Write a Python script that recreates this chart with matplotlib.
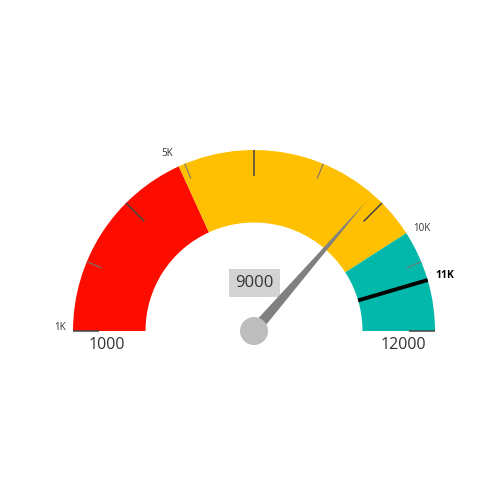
import numpy as np
import matplotlib.pyplot as plt
from matplotlib.patches import Wedge, Circle, Polygon

# gauge data
gauge_min = 1000
gauge_max = 12000
band_edges = [1000, 5000, 10000, 12000]
band_colors = ["#FD0D00", "#FEC000", "#01B8AA"]
value = 9000
target = 11000
edge_labels = ["1K", "5K", "10K"]
edge_values = [1000, 5000, 10000]
target_label = "11K"

CX, CY = 254, 169
R_OUT, R_IN = 181, 108.5

plt.rcParams["font.family"] = ["Open Sans", "DejaVu Sans"]


def angle_of(v):
    return 180.0 - 180.0 * (v - gauge_min) / (gauge_max - gauge_min)


def polar(r, ang):
    a = np.radians(ang)
    return CX + r * np.cos(a), CY + r * np.sin(a)


def main() -> None:
    fig = plt.figure(figsize=(5, 5), dpi=100)
    ax = fig.add_axes([0, 0, 1, 1])
    ax.set_xlim(0, 500)
    ax.set_ylim(0, 500)
    ax.axis("off")

    # coloured bands
    for lo, hi, col in zip(band_edges[:-1], band_edges[1:], band_colors):
        ax.add_patch(Wedge((CX, CY), R_OUT, angle_of(hi), angle_of(lo),
                           width=R_OUT - R_IN, facecolor=col, edgecolor="none"))

    # tick marks, alternating long/short
    n_ticks = 8
    for i in range(n_ticks + 1):
        ang = 180.0 - 180.0 * i / n_ticks
        major = i % 2 == 0
        length = 26 if major else 16
        x0, y0 = polar(R_OUT, ang)
        x1, y1 = polar(R_OUT - length, ang)
        ax.plot([x0, x1], [y0, y1], color="#444444" if major else "#777777",
                lw=1.1 if major else 0.8, solid_capstyle="butt", zorder=3)

    # target line
    ta = angle_of(target)
    x0, y0 = polar(R_IN, ta)
    x1, y1 = polar(R_OUT, ta)
    ax.plot([x0, x1], [y0, y1], color="black", lw=2.8, solid_capstyle="butt", zorder=4)

    # band edge labels
    for lab, v in zip(edge_labels, edge_values):
        ang = angle_of(v)
        if ang > 150:
            ax.text(CX - R_OUT - 7, CY + 4, lab, ha="right", va="center",
                    fontsize=7, color="#333333")
        elif ang > 90:
            x, y = polar(R_OUT + 14, ang)
            ax.text(x, y, lab, ha="right", va="center", fontsize=7, color="#333333")
        else:
            x, y = polar(R_OUT + 8, ang)
            ax.text(x, y, lab, ha="left", va="center", fontsize=7, color="#333333")
    x, y = polar(R_OUT + 8, ta)
    ax.text(x, y + 2, target_label, ha="left", va="center", fontsize=7.5,
            fontweight="bold", color="black")

    # min / max labels
    ax.text(CX - 147, CY - 14, f"{gauge_min}", ha="center",
            va="center", fontsize=11.5, color="#333333")
    ax.text(CX + 149, CY - 14, f"{gauge_max}", ha="center",
            va="center", fontsize=11.5, color="#333333")

    # needle
    va = angle_of(value)
    tip = polar(171, va)
    perp = np.radians(va + 90)
    half = 5.5
    b1 = (CX + half * np.cos(perp), CY + half * np.sin(perp))
    b2 = (CX - half * np.cos(perp), CY - half * np.sin(perp))
    ax.add_patch(Polygon([b1, tip, b2], closed=True, facecolor="#808080",
                         edgecolor="none", zorder=5))
    ax.add_patch(Circle((CX, CY), 14, facecolor="#BDBDBD", edgecolor="none", zorder=6))

    # value label
    ax.text(CX + 0.5, CY + 48, f"{value}", ha="center", va="center", fontsize=12,
            color="#333333",
            bbox=dict(boxstyle="square,pad=0.36", facecolor="#D3D3D3", edgecolor="none"))

    fig.savefig("out.png", dpi=100)


if __name__ == "__main__":
    main()
